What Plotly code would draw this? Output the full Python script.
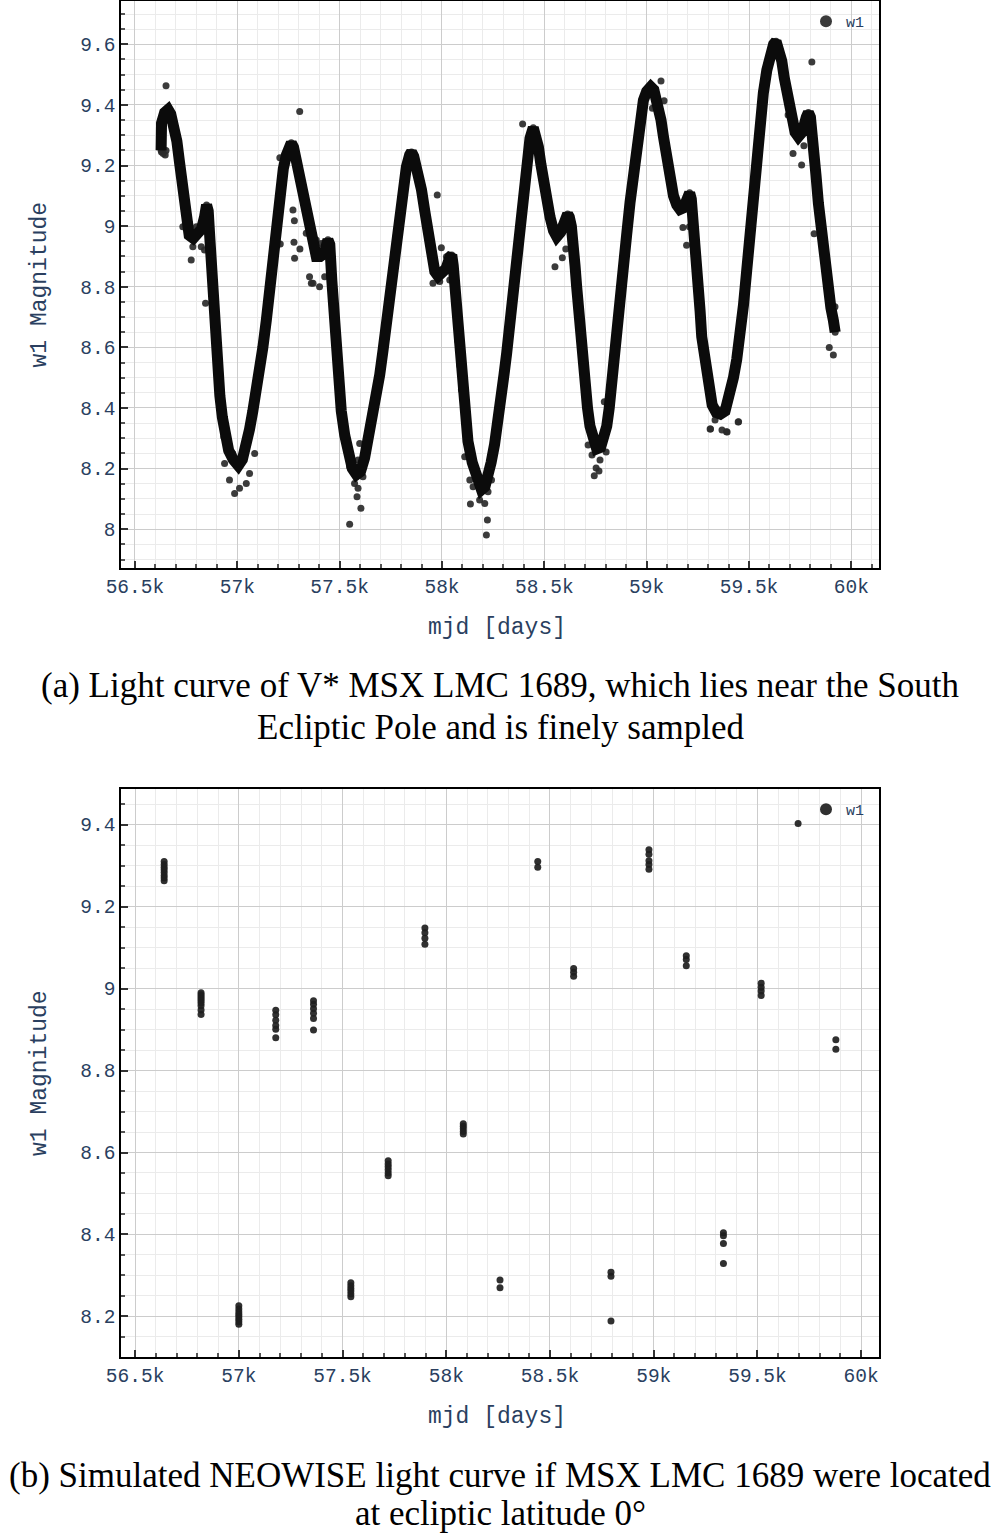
import plotly.graph_objects as go

# ---------------- Panel (a): finely sampled light curve (V* MSX LMC 1689) ----------------
band_mjd = [56628, 56630, 56645, 56662, 56675, 56690, 56705, 56718, 56730, 56740, 56752, 56765, 56785,
            56805, 56825, 56840, 56850, 56858, 56866, 56874, 56882, 56890, 56898, 56906, 56915, 56927,
            56940, 56958, 56980, 57005, 57025, 57044, 57060, 57076, 57092, 57109, 57125, 57142, 57158,
            57174, 57190, 57207, 57225, 57240, 57255, 57264, 57275, 57288, 57305, 57321, 57337, 57353,
            57370, 57386, 57405, 57425, 57443, 57452, 57462, 57472, 57484, 57496, 57508, 57525, 57541,
            57562, 57582, 57602, 57622, 57642, 57663, 57680, 57696, 57712, 57728, 57745, 57761, 57777,
            57793, 57810, 57826, 57842, 57851, 57862, 57883, 57900, 57916, 57932, 57948, 57965, 57981,
            58000, 58020, 58040, 58048, 58055, 58062, 58070, 58078, 58087, 58095, 58110, 58127, 58148,
            58170, 58193, 58210, 58225, 58240, 58257, 58274, 58290, 58303, 58316, 58332, 58349, 58365,
            58381, 58398, 58414, 58430, 58446, 58458, 58471, 58483, 58495, 58512, 58528, 58545, 58561,
            58580, 58600, 58614, 58622, 58632, 58642, 58650, 58658, 58666, 58675, 58687, 58699, 58711,
            58723, 58740, 58756, 58775, 58790, 58805, 58817, 58829, 58841, 58854, 58870, 58886, 58902,
            58919, 58935, 58952, 58968, 58984, 59000, 59020, 59035, 59057, 59070, 59082, 59094, 59106,
            59118, 59131, 59147, 59163, 59180, 59198, 59210, 59218, 59228, 59240, 59253, 59261, 59269,
            59285, 59302, 59320, 59340, 59360, 59383, 59405, 59424, 59440, 59457, 59473, 59489, 59505,
            59522, 59538, 59554, 59570, 59587, 59605, 59620, 59632, 59645, 59660, 59672, 59684, 59697,
            59709, 59725, 59741, 59760, 59780, 59790, 59800, 59808, 59815, 59827, 59839, 59852, 59864,
            59876, 59888, 59900, 59912, 59921]
band_mag = [9.25, 9.34, 9.375, 9.385, 9.37, 9.335, 9.28, 9.21, 9.13, 9.06, 9.0, 8.97, 8.96,
            8.97, 8.99, 9.03, 9.07, 9.05, 8.96, 8.86, 8.78, 8.69, 8.60, 8.52, 8.44, 8.37,
            8.31, 8.26, 8.23, 8.21, 8.23, 8.27, 8.33, 8.39, 8.45, 8.52, 8.60, 8.69, 8.79,
            8.90, 9.01, 9.11, 9.19, 9.235, 9.265, 9.275, 9.26, 9.22, 9.16, 9.11, 9.05, 9.0,
            8.93, 8.90, 8.90, 8.91, 8.955, 8.94, 8.82, 8.72, 8.58, 8.46, 8.39, 8.31, 8.26,
            8.2, 8.18, 8.19, 8.235, 8.30, 8.37, 8.44, 8.51, 8.59, 8.68, 8.78, 8.88, 8.97,
            9.06, 9.14, 9.195, 9.235, 9.245, 9.23, 9.18, 9.12, 9.05, 8.97, 8.90, 8.85, 8.835,
            8.845, 8.86, 8.90, 8.905, 8.87, 8.81, 8.72, 8.62, 8.54, 8.46, 8.37, 8.29, 8.22,
            8.17, 8.13, 8.14, 8.17, 8.22, 8.28, 8.35, 8.43, 8.51, 8.58, 8.69, 8.80, 8.91,
            9.02, 9.13, 9.23, 9.29, 9.325, 9.305, 9.262, 9.205, 9.15, 9.08, 9.03, 8.985, 8.965,
            8.98, 9.01, 9.04, 9.03, 9.0, 8.95, 8.87, 8.80, 8.72, 8.635, 8.55, 8.47, 8.40,
            8.34, 8.29, 8.265, 8.27, 8.30, 8.34, 8.40, 8.47, 8.55, 8.635, 8.74, 8.855, 8.97,
            9.08, 9.18, 9.27, 9.35, 9.415, 9.445, 9.46, 9.45, 9.40, 9.35, 9.295, 9.24, 9.185,
            9.14, 9.10, 9.07, 9.055, 9.06, 9.08, 9.11, 9.09, 9.02, 8.91, 8.80, 8.72, 8.635,
            8.55, 8.47, 8.41, 8.385, 8.38, 8.39, 8.44, 8.50, 8.56, 8.635, 8.74, 8.855, 8.99,
            9.13, 9.24, 9.35, 9.44, 9.515, 9.57, 9.60, 9.61, 9.59, 9.545, 9.49, 9.44, 9.39,
            9.34, 9.31, 9.295, 9.31, 9.36, 9.375, 9.36, 9.32, 9.26, 9.17, 9.075, 8.99, 8.91,
            8.84, 8.78, 8.73, 8.69, 8.65]

# scattered / outlying measurements around the main band
scatter_mjd = [56630, 56638, 56648, 56652, 56634, 56632, 56652,
               56734, 56775, 56783, 56824, 56840, 56800, 56767, 56845,
               56938, 56962, 56987, 57011, 57044, 57060, 56978, 57027, 57085, 56934,
               57208, 57210, 57272, 57279, 57277, 57280, 57306, 57305,
               57353, 57370, 57402, 57427, 57386, 57410, 57337, 57362,
               57549, 57573, 57590, 57614, 57598, 57590, 57585, 57604, 57549,
               57956, 57989, 58022, 58038, 57977, 57997,
               58111, 58136, 58152, 58184, 58209, 58225, 58242, 58168, 58139, 58217, 58222,
               58394, 58552, 58588, 58605,
               58714, 58733, 58772, 58802, 58753, 58744, 58767, 58793,
               59028, 59070, 59085, 59177, 59209, 59195,
               59310, 59334, 59368, 59393, 59447, 59358, 59312, 59390, 59449,
               59564, 59691, 59715, 59757, 59768, 59807, 59818, 59892, 59912, 59920]
scatter_mag = [9.245, 9.24, 9.235, 9.25, 9.29, 9.31, 9.463,
               8.998, 8.888, 8.932, 8.932, 8.921, 8.998, 9.01, 8.746,
               8.217, 8.162, 8.118, 8.135, 8.151, 8.184, 8.25, 8.239, 8.25, 8.305,
               9.226, 8.941, 9.053, 9.018, 8.947, 8.894, 8.925, 9.378,
               8.833, 8.812, 8.80, 8.833, 8.954, 8.943, 8.977, 8.812,
               8.206, 8.151, 8.135, 8.173, 8.283, 8.228, 8.107, 8.069, 8.016,
               8.812, 8.817, 8.899, 8.822, 9.103, 8.929,
               8.239, 8.162, 8.14, 8.096, 8.085, 8.124, 8.162, 8.195, 8.083, 7.981, 8.03,
               9.337, 8.866, 8.896, 8.925,
               8.278, 8.245, 8.228, 8.255, 8.202, 8.176, 8.192, 8.421,
               9.389, 9.479, 9.414, 8.996, 8.998, 8.937,
               8.331, 8.36, 8.327, 8.321, 8.354, 8.393, 8.331, 8.322, 8.355,
               9.444, 9.367, 9.24, 9.202, 9.265, 9.542, 8.975, 8.60, 8.575, 8.734]

# ---------------- Panel (b): simulated NEOWISE sampling ----------------
sim_epoch_mjd = [56640, 56818, 57000, 57178, 57360, 57540, 57720, 57897, 58082, 58259,
                 58441, 58614, 58794, 58977, 59157, 59336, 59518, 59696, 59878]
sim_epoch_mags = [
    [9.310, 9.303, 9.296, 9.290, 9.283, 9.276, 9.270, 9.263],
    [8.990, 8.985, 8.980, 8.975, 8.970, 8.965, 8.958, 8.948, 8.937],
    [8.226, 8.218, 8.211, 8.205, 8.199, 8.193, 8.187, 8.181],
    [8.947, 8.936, 8.923, 8.910, 8.901, 8.880],
    [8.970, 8.962, 8.951, 8.940, 8.927, 8.899],
    [8.282, 8.275, 8.268, 8.262, 8.255, 8.248],
    [8.580, 8.572, 8.565, 8.558, 8.550, 8.543],
    [9.148, 9.136, 9.123, 9.108],
    [8.670, 8.664, 8.658, 8.651, 8.645],
    [8.289, 8.270],
    [9.310, 9.296],
    [9.049, 9.040, 9.030],
    [8.308, 8.298, 8.189],
    [9.339, 9.328, 9.312, 9.303, 9.291],
    [9.080, 9.071, 9.056],
    [8.404, 8.397, 8.378, 8.329],
    [9.013, 9.003, 8.994, 8.983],
    [9.403],
    [8.875, 8.852],
]

# ---------------- text ----------------
series_name = "w1"
x_title = "mjd [days]"
y_title = "w1 Magnitude"
caption_a = ["(a) Light curve of V* MSX LMC 1689, which lies near the South",
             "Ecliptic Pole and is finely sampled"]
caption_b = ["(b) Simulated NEOWISE light curve if MSX LMC 1689 were located",
             "at ecliptic latitude 0°"]

# ---------------- build ----------------
sim_mjd, sim_mag = [], []
for m, mags in zip(sim_epoch_mjd, sim_epoch_mags):
    for v in mags:
        sim_mjd.append(m)
        sim_mag.append(v)

W, H = 1000, 1536
MONO = "Liberation Mono, Courier New, monospace"
SERIF = "Liberation Serif, Times New Roman, serif"
TXT = "#2a3f5f"
PT = "#2a2a2a"


def py(px):
    return 1 - px / H


fig = go.Figure()
# all measurements as markers (legend entry), then the dense band drawn over them
fig.add_trace(go.Scatter(x=band_mjd + scatter_mjd, y=band_mag + scatter_mag, mode="markers",
                         xaxis="x", yaxis="y", name=series_name, legend="legend",
                         marker=dict(size=7, color=PT, opacity=0.92)))
fig.add_trace(go.Scatter(x=band_mjd, y=band_mag, mode="lines", xaxis="x", yaxis="y",
                         line=dict(color="#0b0b0b", width=11), showlegend=False, hoverinfo="skip"))
fig.add_trace(go.Scatter(x=sim_mjd, y=sim_mag, mode="markers", xaxis="x2", yaxis="y2",
                         name=series_name, legend="legend2",
                         marker=dict(size=7, color="#1e1e1e", opacity=0.92)))


def xaxis(domain_y_anchor, rng):
    return dict(domain=[0.121, 0.879], anchor=domain_y_anchor, range=rng, dtick=500, tick0=0,
                showline=True, linecolor="black", linewidth=1.5, mirror=True,
                ticks="inside", ticklen=7, tickwidth=1.5, tickcolor="#333",
                showgrid=True, gridcolor="#cccccc", gridwidth=1, zeroline=False,
                tickfont=dict(family=MONO, size=19.5, color=TXT), automargin=False,
                minor=dict(dtick=100, ticks="inside", ticklen=4, tickcolor="#555",
                           showgrid=True, gridcolor="#ebebeb", gridwidth=1))


def yaxis(x_anchor, rng, dom):
    return dict(domain=dom, anchor=x_anchor, range=rng, dtick=0.2, tick0=0,
                showline=True, linecolor="black", linewidth=1.5, mirror=True,
                ticks="inside", ticklen=7, tickwidth=1.5, tickcolor="#333",
                showgrid=True, gridcolor="#cccccc", gridwidth=1, zeroline=False,
                tickfont=dict(family=MONO, size=19.5, color=TXT), automargin=False,
                minor=dict(dtick=0.05, ticks="inside", ticklen=4, tickcolor="#555",
                           showgrid=True, gridcolor="#ebebeb", gridwidth=1))


annotations = []
for (ycen_plot, ycen_xt) in [(284.5, 628), (1073, 1417)]:
    annotations.append(dict(text=y_title, x=40 / W, y=py(ycen_plot), xref="paper", yref="paper",
                            textangle=-90, showarrow=False, xanchor="center", yanchor="middle",
                            font=dict(family=MONO, size=23, color=TXT)))
    annotations.append(dict(text=x_title, x=497 / W, y=py(ycen_xt), xref="paper", yref="paper",
                            showarrow=False, xanchor="center", yanchor="middle",
                            font=dict(family=MONO, size=23, color=TXT)))
for text, ypx in zip(caption_a + caption_b[:1], [685, 727, 1475]):
    annotations.append(dict(text=text, x=0.5, y=py(ypx), xref="paper", yref="paper",
                            showarrow=False, xanchor="center", yanchor="middle",
                            font=dict(family=SERIF, size=35, color="black")))
# last caption line sits right at the bottom edge: anchor its box to the page bottom
annotations.append(dict(text=caption_b[1], x=0.5, y=py(1535), xref="paper", yref="paper",
                        showarrow=False, xanchor="center", yanchor="bottom",
                        font=dict(family=SERIF, size=35, color="black")))

legend_common = dict(xanchor="left", yanchor="top", bgcolor="rgba(0,0,0,0)",
                     itemsizing="constant", font=dict(family=MONO, size=15, color=TXT))

fig.update_layout(
    width=W, height=H,
    margin=dict(l=0, r=0, t=0, b=0),
    paper_bgcolor="white", plot_bgcolor="white",
    xaxis=xaxis("y", [56432, 60135]),
    yaxis=yaxis("x", [7.872, 9.743], [py(568), py(1)]),
    xaxis2=xaxis("y2", [56432, 60086]),
    yaxis2=yaxis("x2", [8.101, 9.487], [py(1357), py(789)]),
    legend=dict(x=0.806, y=py(5), **legend_common),
    legend2=dict(x=0.806, y=py(793), **legend_common),
    annotations=annotations,
    showlegend=True,
)

fig.write_html("out.html")
